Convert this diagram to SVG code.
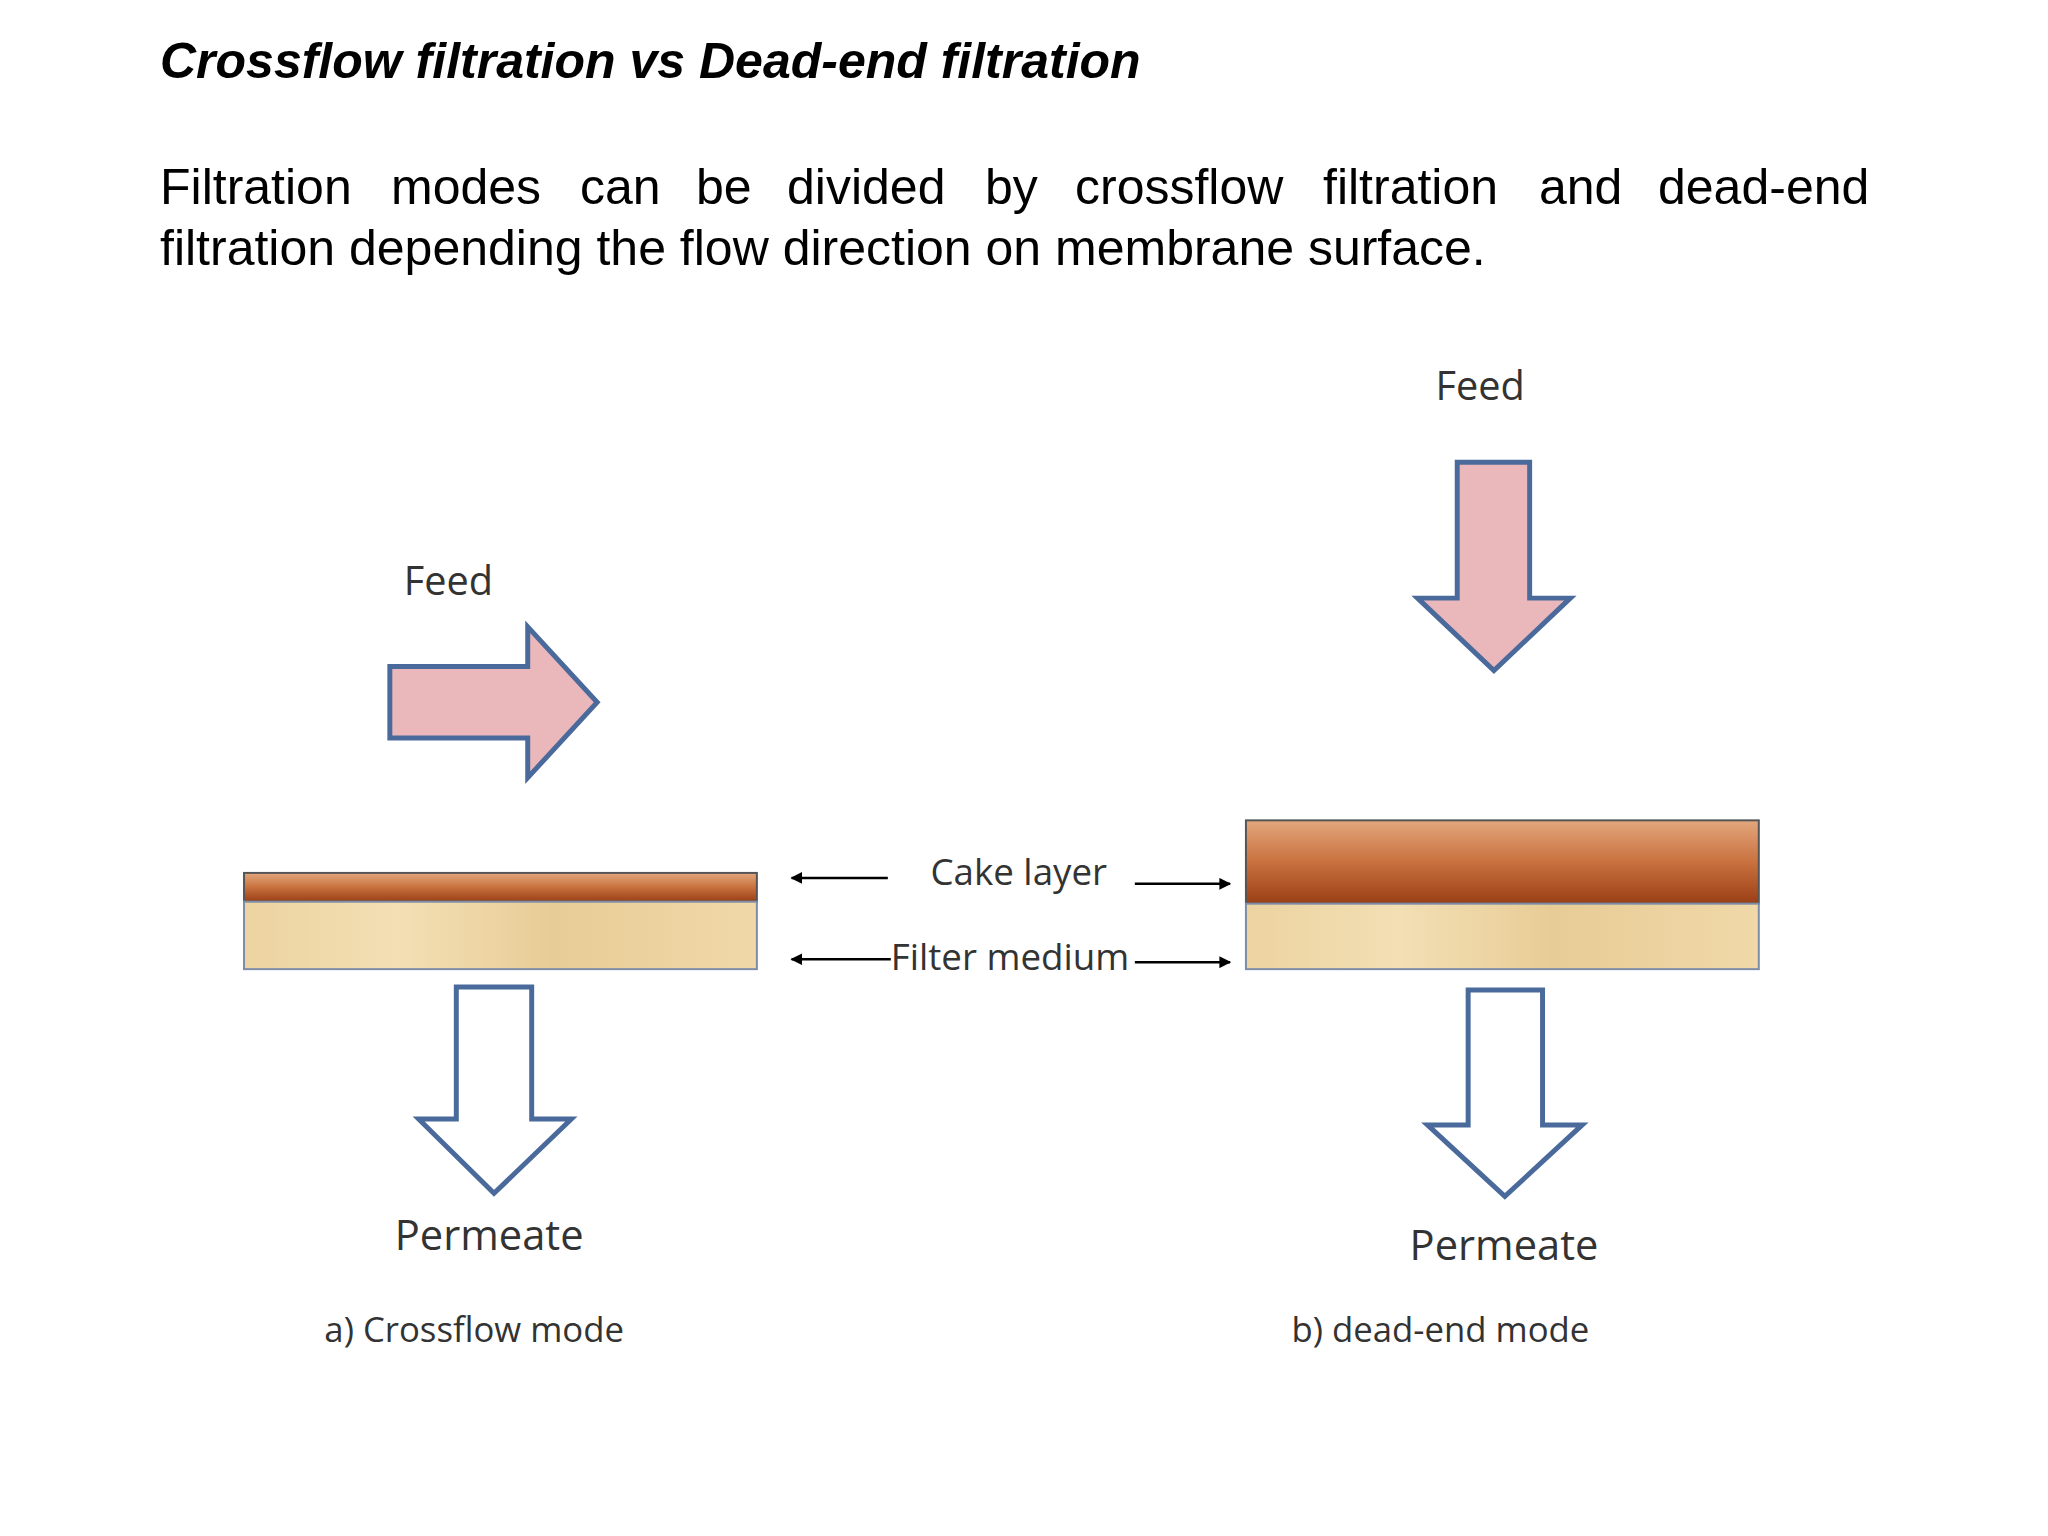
<svg xmlns="http://www.w3.org/2000/svg" width="2048" height="1536" viewBox="0 0 2048 1536">
<defs>
<linearGradient id="cake" x1="0" y1="0" x2="0" y2="1"><stop offset="0" stop-color="#e3a77c"/><stop offset="0.5" stop-color="#c9713f"/><stop offset="1" stop-color="#9a3f16"/></linearGradient>
<linearGradient id="med" x1="0" y1="0" x2="1" y2="0"><stop offset="0" stop-color="#ecd3a0"/><stop offset="0.3" stop-color="#f3dfb4"/><stop offset="0.6" stop-color="#e8cc96"/><stop offset="1" stop-color="#f0d8a8"/></linearGradient>
<marker id="ah" viewBox="0 0 10 10" refX="9" refY="5" markerWidth="12" markerHeight="12" markerUnits="userSpaceOnUse" orient="auto"><path d="M0,0 L10,5 L0,10 z" fill="#000"/></marker>
</defs>
<style>
.t{font-family:"Liberation Sans",Arial,sans-serif;fill:#000}
.c{font-family:"Open Sans","Liberation Sans",sans-serif;fill:#333}
.fa{fill:#eab8bb;stroke:#4a6a9c;stroke-width:5;stroke-linejoin:miter}
.pa{fill:#fff;stroke:#4a6a9c;stroke-width:5}
.cake{fill:url(#cake);stroke:#555;stroke-width:2}
.med{fill:url(#med);stroke:#7d8ca6;stroke-width:2}
.ln{stroke:#000;stroke-width:2.5;fill:none;marker-end:url(#ah)}
</style>
<rect width="2048" height="1536" fill="#fff"/>
<text class="t" x="160" y="78" font-size="50" font-weight="bold" font-style="italic">Crossflow filtration vs Dead-end filtration</text>
<g class="t" font-size="50">
<text x="160" y="204">Filtration</text><text x="391" y="204">modes</text><text x="580" y="204">can</text><text x="696" y="204">be</text><text x="787" y="204">divided</text><text x="985" y="204">by</text><text x="1075" y="204">crossflow</text><text x="1323" y="204">filtration</text><text x="1539" y="204">and</text><text x="1658" y="204">dead-end</text>
<text x="160" y="265">filtration depending the flow direction on membrane surface.</text>
</g>
<g transform="translate(-2,-4) scale(0.992)">
<g id="left-panel">
<text class="c" x="409" y="604" font-size="40">Feed</text>
<path class="fa" d="M395,676 H534 V636 L604,712 L534,788 V748 H395 Z"/>
<rect class="cake" x="248" y="884" width="517" height="29"/>
<rect class="med" x="248" y="913" width="517" height="68"/>
<path class="pa" d="M462,999 H538 V1132 H578 L500,1207 L424,1132 H462 Z"/>
<text class="c" x="400" y="1264" font-size="42">Permeate</text>
<text class="c" x="329" y="1357" font-size="35">a) Crossflow mode</text>
</g>
<g id="right-panel">
<text class="c" x="1449" y="407" font-size="40">Feed</text>
<path class="fa" d="M1471,470 H1544 V607 H1585 L1508,680 L1431,607 H1471 Z"/>
<rect class="cake" x="1258" y="831" width="517" height="84"/>
<rect class="med" x="1258" y="915" width="517" height="66"/>
<path class="pa" d="M1482,1002 H1557 V1138 H1597 L1519,1210 L1441,1138 H1482 Z"/>
<text class="c" x="1423" y="1274" font-size="42">Permeate</text>
<text class="c" x="1304" y="1357" font-size="35">b) dead-end mode</text>
</g>
<g id="labels">
<text class="c" x="940" y="896" font-size="37">Cake layer</text>
<text class="c" x="900" y="982" font-size="37">Filter medium</text>
</g>
<g id="connectors">
<line class="ln" x1="897" y1="889" x2="800" y2="889"/>
<line class="ln" x1="1146" y1="895" x2="1242" y2="895"/>
<line class="ln" x1="900" y1="971" x2="800" y2="971"/>
<line class="ln" x1="1146" y1="974" x2="1242" y2="974"/>
</g>
</g>
</svg>
